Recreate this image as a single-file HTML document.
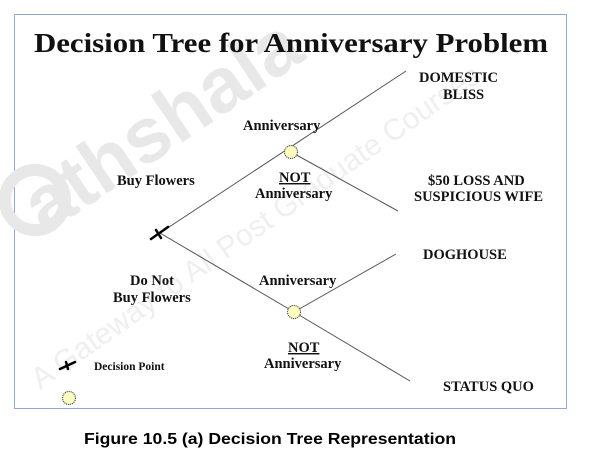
<!DOCTYPE html>
<html><head><meta charset="utf-8"><style>
html,body{margin:0;padding:0;background:#fff;}
svg{display:block;}
.s{font-family:"Liberation Serif",serif;font-weight:bold;fill:#111;}
</style></head><body>
<svg width="600" height="454" viewBox="0 0 600 454" xmlns="http://www.w3.org/2000/svg">
<rect x="14.5" y="14.5" width="552" height="394" fill="#fff" stroke="#8eaadb" stroke-width="1"/>
<!-- faint watermark -->
<g fill="#e8e8e8" font-family="Liberation Sans,sans-serif" font-weight="bold">
<text x="45" y="235" font-size="78" transform="rotate(-34 45 235)">athshala</text>
</g>
<g fill="#efefef" font-family="Liberation Sans,sans-serif">
<text x="40" y="390" font-size="30" transform="rotate(-35 40 390)">A Gateway to All Post Graduate Courses</text>
</g>
<circle cx="35" cy="200" r="30" fill="none" stroke="#e8e8e8" stroke-width="12"/>
<text class="s" x="34" y="52" font-size="27" textLength="514" lengthAdjust="spacingAndGlyphs">Decision Tree for Anniversary Problem</text>
<g stroke="#555" stroke-width="1" fill="none">
<line x1="160" y1="233" x2="406" y2="71"/>
<line x1="291" y1="152" x2="398" y2="211"/>
<line x1="160" y1="233" x2="294" y2="312"/>
<line x1="294" y1="312" x2="396" y2="254"/>
<line x1="294" y1="312" x2="410" y2="381"/>
</g>
<g stroke="#000" stroke-width="2.5" stroke-linecap="round">
<line x1="151" y1="239" x2="168" y2="227"/>
<line x1="156" y1="230" x2="161" y2="238"/>
<line x1="60" y1="369" x2="75" y2="362"/>
<line x1="66" y1="362" x2="68" y2="369"/>
</g>
<g fill="#ffffc0" stroke="#555" stroke-width="1.2" stroke-dasharray="1.2 0.8">
<circle cx="291" cy="152" r="6.5"/>
<circle cx="294" cy="312" r="6.5"/>
<circle cx="69" cy="398" r="6.5"/>
</g>
<g class="s" font-size="14.5">
<text x="419" y="82">DOMESTIC</text>
<text x="443" y="99">BLISS</text>
<text x="243" y="130">Anniversary</text>
<text x="117" y="185">Buy Flowers</text>
<text x="279" y="182" text-decoration="underline">NOT</text>
<text x="255" y="198">Anniversary</text>
<text x="428" y="185">$50 LOSS AND</text>
<text x="414" y="201">SUSPICIOUS WIFE</text>
<text x="423" y="259">DOGHOUSE</text>
<text x="259" y="285">Anniversary</text>
<text x="130" y="285">Do Not</text>
<text x="113" y="302">Buy Flowers</text>
<text x="288" y="352" text-decoration="underline">NOT</text>
<text x="264" y="368">Anniversary</text>
<text x="443" y="391">STATUS QUO</text>
</g>
<text class="s" x="94" y="370" font-size="11.5">Decision Point</text>
<text x="84" y="444" font-family="Liberation Sans,sans-serif" font-weight="bold" font-size="16" textLength="372" lengthAdjust="spacingAndGlyphs" fill="#000">Figure 10.5 (a) Decision Tree Representation</text>
</svg>
</body></html>
